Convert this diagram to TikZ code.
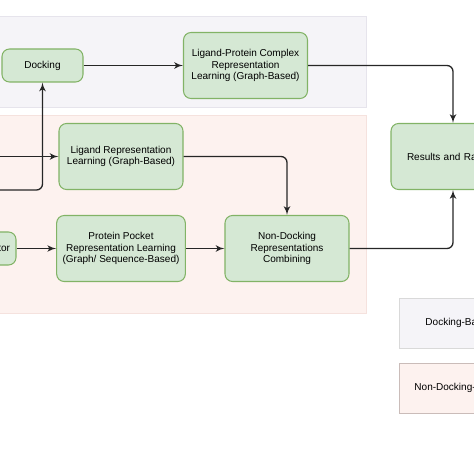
\documentclass[tikz,border=0pt]{standalone}
\usepackage{fontspec}
\setmainfont{Liberation Sans}
\usepackage{xcolor}
\usepackage{tikz}
\usetikzlibrary{shapes,arrows}
\definecolor{nodegreen}{HTML}{D5E8D4}
\definecolor{nodeborder}{HTML}{82B366}
\definecolor{dockfill}{HTML}{F5F4F8}
\definecolor{dockborder}{HTML}{E6E4EC}
\definecolor{nondockfill}{HTML}{FDF2EF}
\definecolor{nondockborder}{HTML}{F5E2DE}
\tikzstyle{block} = [rectangle, draw=nodeborder, fill=nodegreen, text centered, align=center, rounded corners=0.15cm, minimum
    height=1.32cm, minimum width=2.48cm, line width=0.6pt, font=\fontsize{5.7}{6.6}\selectfont]
\tikzstyle{smallblock} = [block, minimum height=0.66cm, minimum width=1.62cm]
\tikzstyle{line} = [draw, -latex', black!85, line width=0.75pt, rounded corners=0.12cm]
\tikzstyle{legend} = [rectangle, draw, anchor=west, minimum height=1cm, text width=2.5cm, align=left,
    line width=0.5pt, font=\fontsize{5.7}{6.6}\selectfont]

\begin{document}
\begin{tikzpicture}[node distance=1cm,auto]
  \useasboundingbox (0,0) rectangle (9.48,-9.48);
  % regions
  \filldraw [fill=dockfill, draw=dockborder] (-0.2,-0.32) rectangle (7.32,-2.14);
  \filldraw [fill=nondockfill, draw=nondockborder] (-0.2,-2.30) rectangle (7.32,-6.26);

      \node [smallblock] (docking) at (0.85,-1.31) {Docking};
      \node [block, right of=docking, xshift=3.06cm] (lpc) {Ligand-Protein Complex\\Representation\\Learning (Graph-Based)};
      \node [block, below of=docking, xshift=1.57cm, yshift=-0.82cm] (ligrep) {Ligand Representation\\Learning (Graph-Based)};
      \node [block, below of=ligrep, yshift=-0.84cm] (pocket) {Protein Pocket\\Representation Learning\\(Graph/ Sequence-Based)};
      \node [block, right of=pocket, xshift=2.32cm] (nondock) {Non-Docking\\Representations\\Combining};
      \node [smallblock, left of=pocket, xshift=-1.91cm, inner xsep=0.12cm, text width=1.38cm, align=right] (tor) {tor};
      \node [block, right of=ligrep, xshift=5.64cm, inner xsep=0.32cm, text width=1.84cm, align=left] (results) {Results and Ra};

   \node [legend, fill=dockfill, draw=black!15, inner xsep=0.52cm] (legdock) at (7.98,-6.46) {Docking-Ba};
   \node [legend, fill=nondockfill, draw=nondockborder!80!black!90, inner xsep=0.30cm] (legnondock) at (7.98,-7.76) {Non-Docking-};

      \coordinate (ligin) at (-0.1,-3.13);
      \coordinate (dockin) at (-0.1,-3.80);

      \path [line] (docking) -- (lpc);
      \path [line] (lpc.east) -| (results.north);
      \path [line] (ligin) -- (ligrep);
      \path [line] (dockin) -| (docking.south);
      \path [line] (ligrep.east) -| (nondock.north);
      \path [line] (tor) -- (pocket);
      \path [line] (pocket) -- (nondock);
      \path [line] (nondock.east) -| (results.south);
    \end{tikzpicture}
\end{document}
